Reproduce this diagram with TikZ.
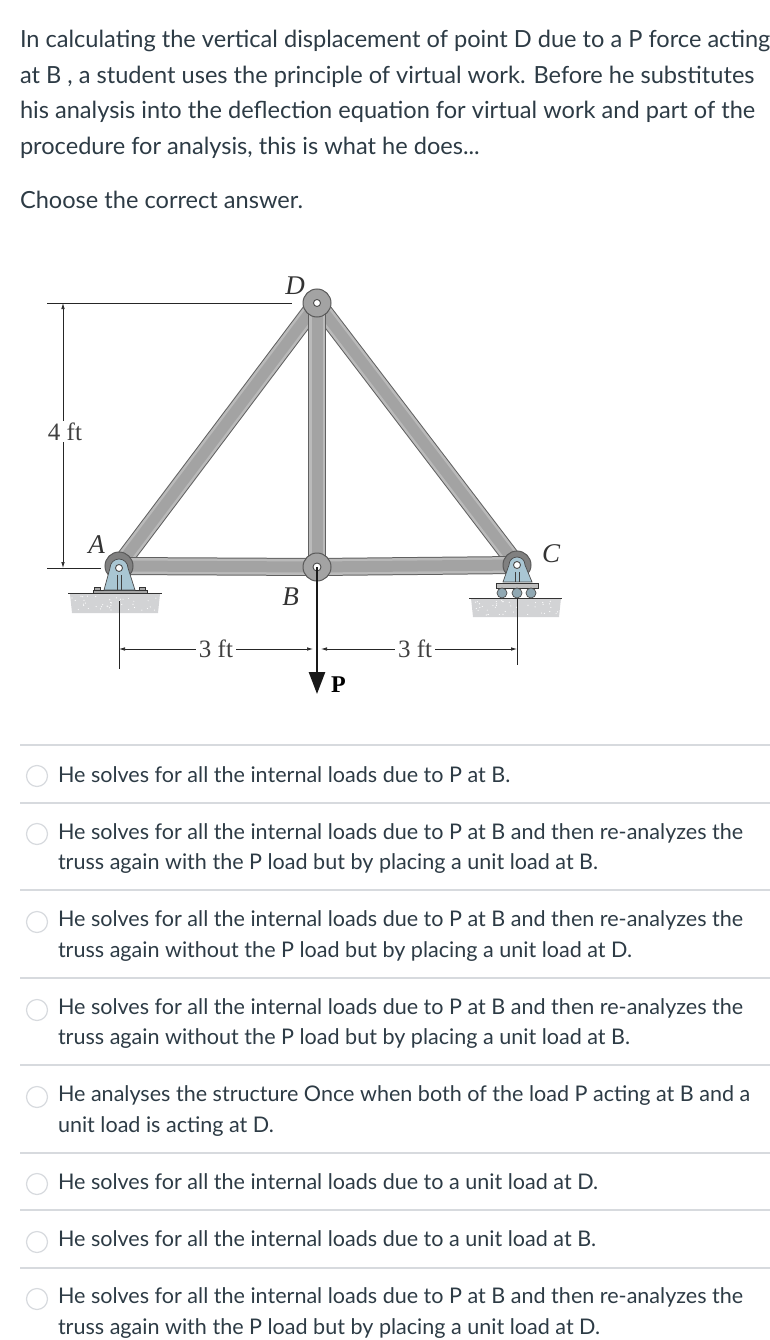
\documentclass[tikz,border=0pt]{standalone}
\usepackage{fontspec}
\setmainfont{Lato}
\newfontfamily\dimfont{Liberation Serif}
\usetikzlibrary{arrows.meta,positioning,backgrounds}
\definecolor{inkgray}{HTML}{2D3B45}
\definecolor{rulegray}{HTML}{D7DADE}
\definecolor{steelblue}{HTML}{A9C6D3}
\definecolor{groundgray}{HTML}{D2D3D5}

\begin{document}
\begin{tikzpicture}[x=1pt,y=-1pt,
          txt/.style={anchor=base west,inner sep=0pt,outer sep=0pt,text=inkgray,font=\fontsize{21.55}{22}\selectfont},
          qtxt/.style={txt,font=\fontsize{23.6}{24}\selectfont},
          radio/.style={circle,draw=rulegray,line width=1.2pt,fill=white,minimum size=21pt,inner sep=0pt},
          sep/.style={draw=rulegray,line width=1.2pt},
          joint/.style={circle,draw=black!65,line width=1pt,fill=black!36,minimum size=28pt,inner sep=0pt},
          pin/.style={circle,draw=black!70,line width=.9pt,fill=white,minimum size=7pt,inner sep=0pt},
          dim/.style={draw=black!85,line width=.7pt,{Latex[length=6pt,width=3.5pt]}-{Latex[length=6pt,width=3.5pt]}},
          ext/.style={draw=black!85,line width=.7pt},
          dimtxt/.style={fill=white,inner xsep=3pt,inner ysep=5pt,text=black!75,font=\dimfont\fontsize{25}{25}\selectfont},
          lab/.style={inner sep=0pt,text=black!80,font=\dimfont\itshape\fontsize{27}{27}\selectfont},
          plate/.style={draw=black!80,line width=.7pt,fill=black!35}]
  \useasboundingbox (0,0) rectangle (770,1340);

  % question
  \node[qtxt] (Q1) at (20,48) {In calculating the vertical displacement of point D due to a P force acting};
  \node[qtxt] (Q2) at (20,84) {at B , a student uses the principle of virtual work. Before he substitutes};
  \node[qtxt] (Q3) at (20,119) {his analysis into the deflection equation for virtual work and part of the};
  \node[qtxt] (Q4) at (20,155) {procedure for analysis, this is what he does...};
  \node[qtxt] (Q5) at (20,209) {Choose the correct answer.};

  % truss
  \node[joint] (D) at (317,303) {};
  \node[joint] (B) at (317,567) {};
  \node[joint,fill=black!50] (A) at (119,566) {};
  \node[joint,fill=black!50] (C) at (517,565) {};
  \begin{scope}[on background layer]
    \foreach \a/\b in {A/D,D/C,D/B,A/B,B/C}{
      \draw[line width=18pt,black!62] (\a.center) -- (\b.center);
      \draw[line width=16pt,black!27] (\a.center) -- (\b.center);
      \draw[line width=11pt,black!36] (\a.center) -- (\b.center);
    }
  \end{scope}
  \node[pin] (pinD) at (D.center) {};

  % ground
  \fill[groundgray] (70,594) -- (160,594) -- (158,613) -- (72,613) -- cycle;
  \fill[groundgray] (471,598) -- (561,598) -- (559,617) -- (473,617) -- cycle;
  \pgfmathsetseed{7}
  \foreach \i in {1,...,40}{
    \fill[white] (72+86*rnd,596+15*rnd) circle[radius=.6];
    \fill[white] (473+86*rnd,600+15*rnd) circle[radius=.6];
  }
  \coordinate (gAl) at (68,593.5);
  \coordinate (gAr) at (162,593.5);
  \coordinate (gCl) at (469,598);
  \coordinate (gCr) at (562,598);
  \draw[line width=1pt,black!80] (gAl) -- (gAr);
  \draw[line width=1pt,black!80] (gCl) -- (gCr);

  % supports
  \draw[plate] (93,590) rectangle (147,593);
  \foreach \x in {97,142} \draw[plate] (\x-3,590) rectangle (\x+3,587);
  \draw[draw=black!70,fill=steelblue,line width=.7pt] (104,590) -- (110,568) arc[start angle=180,end angle=360,x radius=9,y radius=9] -- (135,590) -- cycle;
  \draw[black!75,line width=.8pt] (117,575) -- (117,590) (121,575) -- (121,590);
  \node[pin] (pinA) at (119,568) {};

  \draw[draw=black!70,fill=steelblue,line width=.7pt] (503,582) -- (509,565) arc[start angle=180,end angle=360,x radius=8,y radius=8] -- (532,582) -- cycle;
  \draw[black!75,line width=.8pt] (515,572) -- (515,582) (519,572) -- (519,582);
  \node[pin] (pinC) at (C.center) {};
  \draw[plate,fill=black!25] (496,583) rectangle (538,588);
  \foreach \x in {502,517,531} \draw[draw=black!70,fill=steelblue!85!black,line width=.7pt] (\x,593) circle[radius=5];

  % load
  \node[pin,minimum size=8pt] (pinB) at (B.center) {};
  \coordinate (Ptip) at (317,694);
  \draw[line width=2.6pt,black!90,-{Triangle[length=22pt,width=16pt]}] (pinB.center) -- (Ptip);
  \node[inner sep=0pt,font=\dimfont\bfseries\fontsize{24}{24}\selectfont] (P) [right = 14pt of Ptip, yshift=9pt] {P};

  % labels
  \node[lab] (labD) [above left = 8pt and 12pt of D.center] {D};
  \node[lab] (labA) [above left = 12pt and 14pt of A.center] {A};
  \node[lab] (labB) [below left = 21pt and 18pt of B.center] {B};
  \node[lab] (labC) [above right = 2pt and 25pt of C.center] {C};

  % dimensions
  \coordinate (topL) at (47,303);
  \coordinate (topR) at (292,303);
  \coordinate (lowL) at (47,568);
  \coordinate (lowR) at (101,568);
  \draw[ext] (topL) -- (topR);
  \draw[ext] (lowL) -- (lowR);
  \coordinate (hTop) at (63,303);
  \coordinate (hLow) at (63,568);
  \draw[dim] (hTop) -- node[dimtxt,pos=.485,xshift=2pt,inner ysep=2pt] (ftH) {4 ft} (hLow);
  \coordinate (extAt) at (119,601);
  \coordinate (extAb) at (119,669);
  \coordinate (extCt) at (517,598);
  \coordinate (extCb) at (517,665);
  \draw[ext] (extAt) -- (extAb);
  \draw[ext] (extCt) -- (extCb);
  \coordinate (wA) at (119,649);
  \coordinate (wBl) at (313,649);
  \coordinate (wBr) at (321,649);
  \coordinate (wC) at (517,649);
  \draw[dim] (wA) -- node[dimtxt] (ftL) {3 ft} (wBl);
  \draw[dim] (wBr) -- node[dimtxt,pos=.48] (ftR) {3 ft} (wC);

  % answers
  \foreach \n/\y in {1/745,2/803,3/890,4/978,5/1065,6/1153,7/1210,8/1268}{
    \coordinate (sepL\n) at (20,\y);
    \coordinate (sepR\n) at (770,\y);
    \draw[sep] (sepL\n) -- (sepR\n);
  }
  \foreach \n/\y in {1/776,2/834,3/922,4/1010,5/1097,6/1184,7/1242,8/1299}
    \node[radio] (R\n) at (37,\y) {};

  \node[txt] (T1) at (58,782) {He solves for all the internal loads due to P at B.};
  \node[txt] (T2) at (58,839) {He solves for all the internal loads due to P at B and then re-analyzes the};
  \node[txt] (T2b) at (58,869) {truss again with the P load but by placing a unit load at B.};
  \node[txt] (T3) at (58,926) {He solves for all the internal loads due to P at B and then re-analyzes the};
  \node[txt] (T3b) at (58,957) {truss again without the P load but by placing a unit load at D.};
  \node[txt] (T4) at (58,1014) {He solves for all the internal loads due to P at B and then re-analyzes the};
  \node[txt] (T4b) at (58,1044) {truss again without the P load but by placing a unit load at B.};
  \node[txt] (T5) at (58,1101) {He analyses the structure Once when both of the load P acting at B and a};
  \node[txt] (T5b) at (58,1132) {unit load is acting at D.};
  \node[txt] (T6) at (58,1189) {He solves for all the internal loads due to a unit load at D.};
  \node[txt] (T7) at (58,1246) {He solves for all the internal loads due to a unit load at B.};
  \node[txt] (T8) at (58,1303) {He solves for all the internal loads due to P at B and then re-analyzes the};
  \node[txt] (T8b) at (58,1334) {truss again with the P load but by placing a unit load at D.};
\end{tikzpicture}
\end{document}
